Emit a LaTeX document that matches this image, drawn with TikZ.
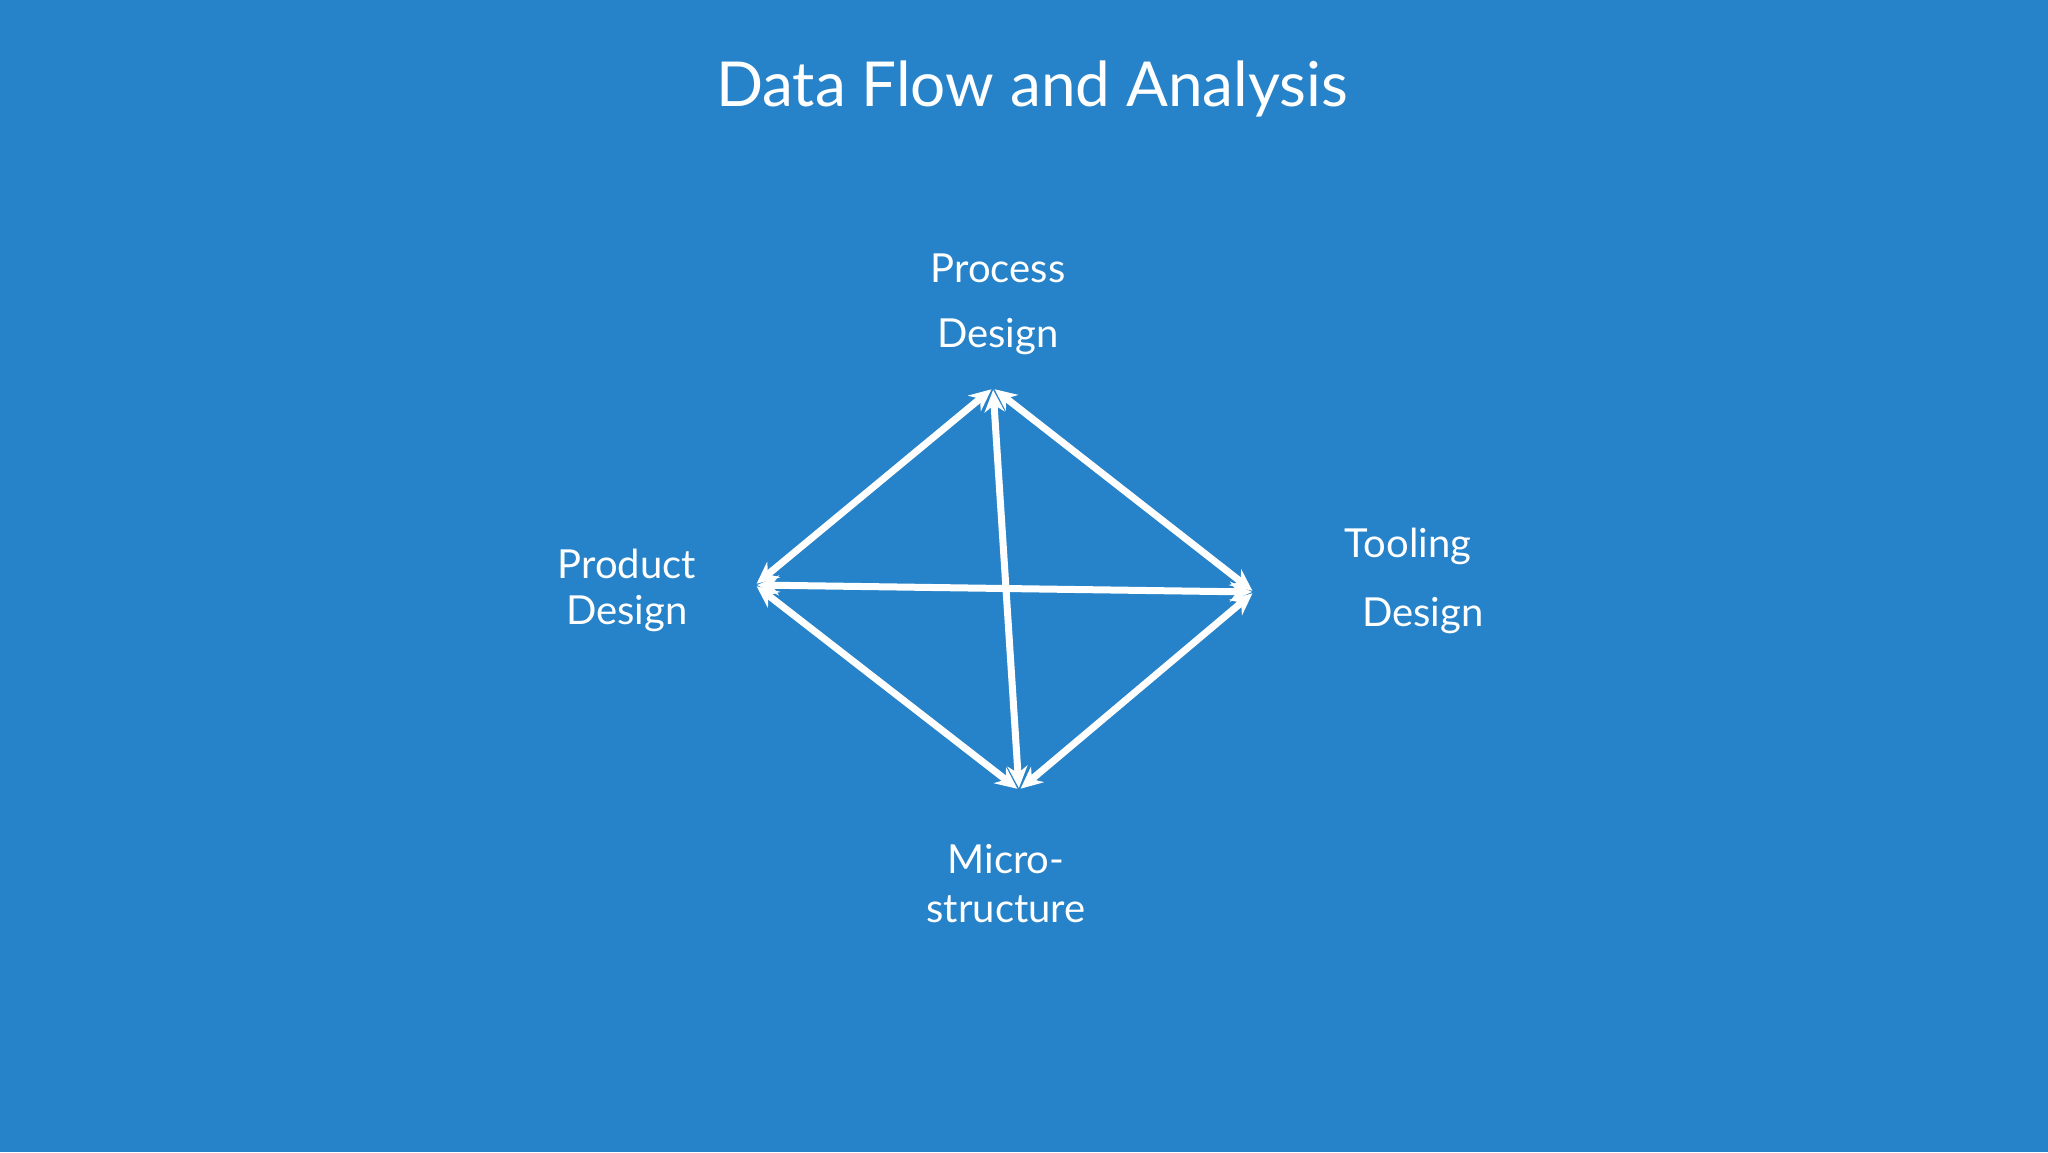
\documentclass[tikz,border=0pt]{standalone}
\usepackage{fontspec}
\setmainfont{Lato}
\usetikzlibrary{arrows.meta}
\definecolor{bg}{HTML}{2682C9}
\begin{document}
\begin{tikzpicture}[x=1pt,y=-1pt,
  lbl/.style={text=white,font=\fontsize{40}{48}\selectfont},
  link/.style={draw=white,line width=7pt,{Stealth[length=22pt,width=20pt]}-{Stealth[length=22pt,width=20pt]},shorten <=2pt,shorten >=2pt}]
\fill[bg] (0,0) rectangle (2048,1152);
\useasboundingbox (0,0) rectangle (2048,1152);
\node[text=white,font=\fontsize{62}{70}\selectfont] (title) at (1032,89) {Data Flow and Analysis};
\coordinate (T) at (993,388);
\coordinate (L) at (755,585);
\coordinate (R) at (1254,592);
\coordinate (B) at (1019,790);
\node[lbl] (p1) at (998,268) {Process};
\node[lbl] (p2) at (998,337) {Design};
\node[lbl] (d1) at (627,564) {Product};
\node[lbl] (d2) at (627,614) {Design};
\node[lbl] (t1) at (1408,546) {Tooling};
\node[lbl] (t2) at (1423,616) {Design};
\node[lbl] (m1) at (1006,859) {Micro-};
\node[lbl] (m2) at (1006,909) {structure};
\draw[link] (T) -- (L);
\draw[link] (T) -- (R);
\draw[link] (L) -- (B);
\draw[link] (R) -- (B);
\draw[link] (L) -- (R);
\draw[link] (T) -- (B);
\end{tikzpicture}
\end{document}
